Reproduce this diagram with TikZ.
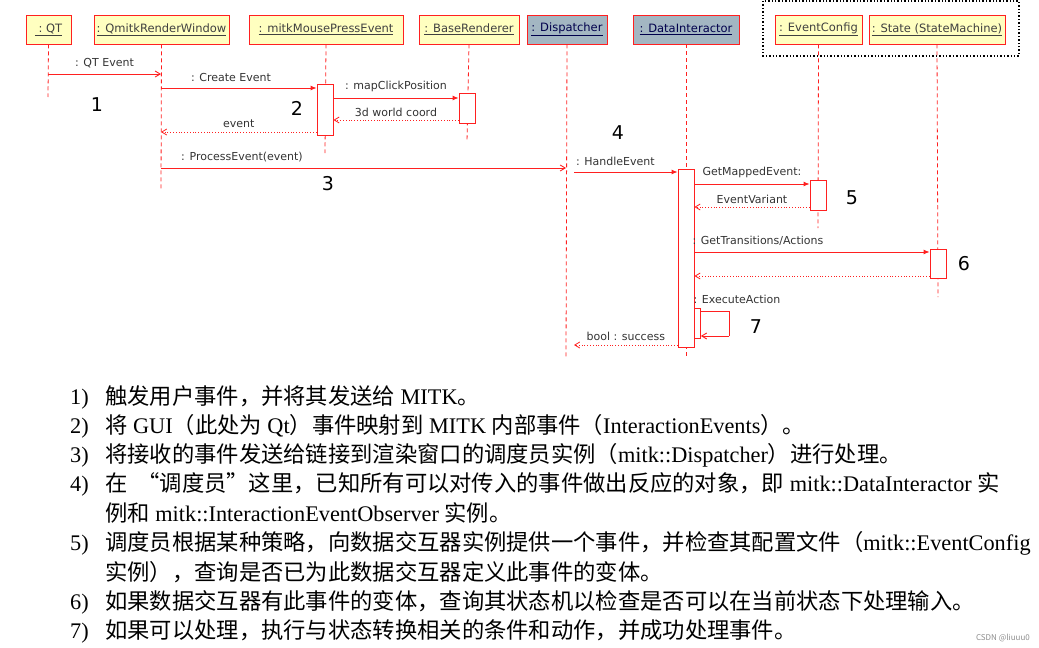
\documentclass[tikz,border=0pt]{standalone}
\usepackage{fontspec}
\setmainfont{Liberation Serif}
\newfontfamily\dv{DejaVu Sans}
\newfontfamily\cjk{Noto Sans CJK SC}
\newcommand\zh[1]{{\cjk #1}}
\usetikzlibrary{arrows.meta}
\definecolor{lr}{HTML}{FF2020}
\definecolor{hy}{HTML}{FFFFC0}
\definecolor{hb}{HTML}{A3B6C2}
\tikzset{
 hdr/.style={draw=lr,fill=hy,line width=0.9pt,inner sep=0pt,minimum height=29pt,font=\dv\fontsize{11.5}{13}\selectfont,text=black!75},
 hdrb/.style={hdr,fill=hb,text=black!70!blue},
 life/.style={draw=lr,dashed,dash pattern=on 4pt off 3pt,line width=0.8pt},
 act/.style={draw=lr,fill=white,line width=0.9pt},
 msg/.style={draw=lr,line width=0.9pt,-{Latex[length=6pt,width=5pt]}},
 msgo/.style={draw=lr,line width=0.9pt,-{Straight Barb[length=5pt,width=6pt]}},
 ret/.style={draw=lr,line width=0.8pt,dotted,-{Straight Barb[length=5pt,width=6pt]}},
 lbl/.style={font=\dv\fontsize{11}{13}\selectfont,text=black!80,inner sep=0pt},
 num/.style={font=\dv\fontsize{19}{21}\selectfont,inner sep=0pt},
 item/.style={anchor=base west,inner sep=0pt,font=\fontsize{22.3}{26}\selectfont},
}
\begin{document}
\begin{tikzpicture}[x=1pt,y=-1pt]
\useasboundingbox (0,0) rectangle (1039,648);
\draw[dotted,line width=1.4pt] (763,1) rectangle (1019,56);
% headers
\node[hdr,minimum width=45pt] (qt) at (48.5,29.5) {\underline{\ :\ QT}};
\node[hdr,minimum width=135pt] (qrw) at (161.5,29.5) {\underline{: QmitkRenderWindow}};
\node[hdr,minimum width=154pt] (mpe) at (326,29.5) {\underline{: mitkMousePressEvent}};
\node[hdr,minimum width=100pt] (br) at (469,29.5) {\underline{: BaseRenderer}};
\node[hdrb,minimum width=80pt] (dis) at (567,29.5) {\underline{: Dispatcher}};
\node[hdrb,minimum width=106pt] (di) at (686,29.5) {\underline{: DataInteractor}};
\node[hdr,minimum width=87pt] (ec) at (818.5,29.5) {\underline{: EventConfig}};
\node[hdr,minimum width=136pt] (st) at (937,29.5) {\underline{: State (StateMachine)}};
% lifelines
\coordinate (qtE) at (48,97); \draw[life] (qt.south) -- (qtE);
\coordinate (qrwE) at (161,190); \draw[life] (qrw.south) -- (qrwE);
\coordinate (mpeE) at (325,153); \draw[life] (mpe.south) -- (mpeE);
\coordinate (brE) at (467,142); \draw[life] (br.south) -- (brE);
\coordinate (disE) at (566,358); \draw[life] (dis.south) -- (disE);
\coordinate (diE) at (686,358); \draw[life] (di.south) -- (diE);
\coordinate (ecE) at (818,228); \draw[life] (ec.south) -- (ecE);
\coordinate (stE) at (938,297); \draw[life] (st.south) -- (stE);
% activations
\node[act,minimum width=16pt,minimum height=51pt,inner sep=0pt] (a1) at (325,109.5) {};
\node[act,minimum width=16pt,minimum height=30pt,inner sep=0pt] (a2) at (467,108) {};
\node[act,minimum width=16pt,minimum height=178pt,inner sep=0pt] (a3) at (686,258) {};
\node[act,minimum width=16pt,minimum height=30pt,inner sep=0pt] (a4) at (818,195) {};
\node[act,minimum width=16pt,minimum height=29pt,inner sep=0pt] (a5) at (938,263.5) {};
\node[act,minimum width=6pt,minimum height=30pt,inner sep=0pt,anchor=north west] (a6) at (694,308) {};
% messages
\coordinate (q1) at (48,74); \coordinate (q2) at (161,74);
\draw[msgo] (q1) -- (q2) node[lbl,midway,above=6pt] {: QT Event};
\draw[msg] (161,88) -- (a1.west|-0,88) node[lbl,pos=0.45,above=6pt] {: Create Event};
\draw[msg] (a1.east|-0,98) -- (a2.west|-0,98) node[lbl,midway,above=6pt] {: mapClickPosition};
\draw[ret] (a2.west|-0,120) -- (a1.east|-0,120) node[lbl,midway,above=3pt] {3d world coord};
\draw[ret] (a1.west|-0,132) -- (161,132) node[lbl,midway,above=4pt] {event};
\draw[msgo] (161,168) -- (566,168) node[lbl,pos=0.2,above=6pt] {: ProcessEvent(event)};
\draw[msg] (574,172) -- (a3.west|-0,172) node[lbl,pos=0.4,above=6pt] {: HandleEvent};
\draw[msg] (a3.east|-0,184) -- (a4.west|-0,184) node[lbl,midway,above=6pt] {GetMappedEvent:};
\draw[ret] (a4.west|-0,207) -- (a3.east|-0,207) node[lbl,midway,above=3pt] {EventVariant};
\draw[msg] (a3.east|-0,252) -- (a5.west|-0,252) node[lbl,pos=0.27,above=6pt] {: GetTransitions/Actions};
\draw[ret] (a5.west|-0,276) -- (a3.east|-0,276);
\node[lbl] (ea) at (737,299) {: ExecuteAction};
\draw[draw=lr,line width=0.9pt] (a6.east|-0,311) -- (729,311) -- (729,336);
\draw[msgo] (729,336) -- (a6.east|-0,336);
\draw[ret] (a3.west|-0,345) -- (574,345) node[lbl,midway,above=4pt] {bool : success};
% numbers
\node[num] (n1) at (97,105) {1};
\node[num] (n2) at (297,108) {2};
\node[num] (n3) at (328,184) {3};
\node[num] (n4) at (618,133) {4};
\node[num] (n5) at (852,198) {5};
\node[num] (n6) at (964,264) {6};
\node[num] (n7) at (756,327) {7};
% list
\foreach \n/\y in {1/404,2/433,3/462,4/491,5/550,6/609,7/638}
  \node[item] (k\n) at (70,\y) {\n)};
\node[item] (t1) at (105,404) {\zh{触发用户事件，并将其发送给} MITK\zh{。}};
\node[item] (t2) at (105,433) {\zh{将} GUI\zh{（此处为} Qt\zh{）事件映射到} MITK \zh{内部事件（}InteractionEvents\zh{）。}};
\node[item] (t3) at (105,462) {\zh{将接收的事件发送给链接到渲染窗口的调度员实例（}mitk::Dispatcher\zh{）进行处理。}};
\node[item] (t4) at (105,491) {\zh{在\ \ “调度员”这里，已知所有可以对传入的事件做出反应的对象，即} mitk::DataInteractor \zh{实}};
\node[item] (t4b) at (105,521) {\zh{例和} mitk::InteractionEventObserver \zh{实例。}};
\node[item] (t5) at (105,550) {\zh{调度员根据某种策略，向数据交互器实例提供一个事件，并检查其配置文件（}mitk::EventConfig};
\node[item] (t5b) at (105,580) {\zh{实例），查询是否已为此数据交互器定义此事件的变体。}};
\node[item] (t6) at (105,609) {\zh{如果数据交互器有此事件的变体，查询其状态机以检查是否可以在当前状态下处理输入。}};
\node[item] (t7) at (105,638) {\zh{如果可以处理，执行与状态转换相关的条件和动作，并成功处理事件。}};
\node[anchor=base east,inner sep=0pt,font=\cjk\fontsize{8}{9}\selectfont,text=black!45] (wm) at (1030,640) {CSDN @liuuu0};
\end{tikzpicture}
\end{document}
